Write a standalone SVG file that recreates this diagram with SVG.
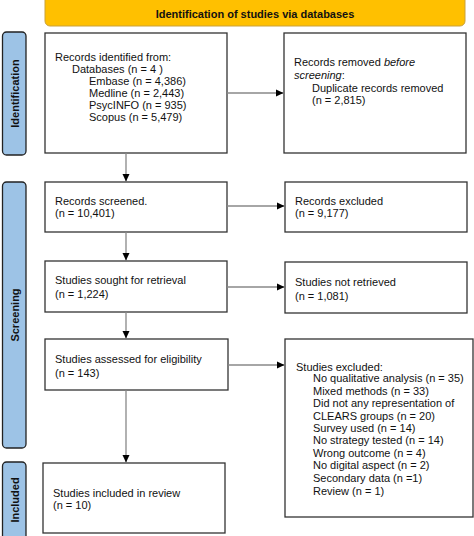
<svg xmlns="http://www.w3.org/2000/svg" width="474" height="536" viewBox="0 0 474 536">
<style>
text{font-family:"Liberation Sans",Arial,sans-serif;font-size:11px;fill:#111}
.box{fill:#fff;stroke:#333;stroke-width:1.3}
.side rect{fill:#9DC3E6;stroke:#222;stroke-width:1.3}
.side text{font-weight:bold;font-size:11px}
.hdr{fill:#FFC000;stroke:#C9A13A;stroke-width:1}
.c line{stroke:#888;stroke-width:1.3;marker-end:url(#ah)}
</style>
<defs>
<marker id="ah" markerWidth="8" markerHeight="8" refX="7" refY="4" orient="auto" markerUnits="userSpaceOnUse">
<path d="M0,0.5 L7.5,4 L0,7.5 Z" fill="#000"/>
</marker>
</defs>
<rect width="474" height="536" fill="#fff"/>
<g id="header">
<rect class="hdr" x="45" y="-6" width="420" height="32" rx="5"/>
<text x="255" y="18" text-anchor="middle" font-weight="bold" font-size="11.3">Identification of studies via databases</text>
</g>
<g id="side-identification" class="side">
<rect x="2.5" y="32" width="23.5" height="123" rx="4"/>
<text transform="translate(18.5,93.5) rotate(-90)" text-anchor="middle">Identification</text>
</g>
<g id="side-screening" class="side">
<rect x="2.5" y="182" width="23.5" height="266" rx="4"/>
<text transform="translate(18.5,315) rotate(-90)" text-anchor="middle">Screening</text>
</g>
<g id="side-included" class="side">
<rect x="2.5" y="462" width="23.5" height="80" rx="4"/>
<text transform="translate(18.5,500) rotate(-90)" text-anchor="middle">Included</text>
</g>
<g id="records-identified">
<rect class="box" x="45" y="33" width="182" height="120"/>
<text x="55" y="61">Records identified from:</text>
<text x="72" y="73">Databases (n = 4 )</text>
<text x="89" y="85">Embase (n = 4,386)</text>
<text x="89" y="97">Medline (n = 2,443)</text>
<text x="89" y="109">PsycINFO (n = 935)</text>
<text x="89" y="121">Scopus (n = 5,479)</text>
</g>
<g id="records-removed">
<rect class="box" x="284" y="33" width="182" height="120"/>
<text x="294" y="66">Records removed <tspan font-style="italic">before</tspan></text>
<text x="294" y="79"><tspan font-style="italic">screening</tspan>:</text>
<text x="312" y="92">Duplicate records removed</text>
<text x="312" y="104">(n = 2,815)</text>
</g>
<g id="records-screened">
<rect class="box" x="45" y="182" width="182" height="50"/>
<text x="55" y="205">Records screened.</text>
<text x="55" y="217">(n = 10,401)</text>
</g>
<g id="records-excluded">
<rect class="box" x="285" y="182" width="182" height="50"/>
<text x="295" y="205">Records excluded</text>
<text x="295" y="217">(n = 9,177)</text>
</g>
<g id="studies-sought">
<rect class="box" x="45" y="261" width="182" height="51"/>
<text x="55" y="284">Studies sought for retrieval</text>
<text x="55" y="298">(n = 1,224)</text>
</g>
<g id="studies-not-retrieved">
<rect class="box" x="285" y="262" width="182" height="51"/>
<text x="295" y="286">Studies not retrieved</text>
<text x="295" y="300">(n = 1,081)</text>
</g>
<g id="studies-assessed">
<rect class="box" x="45" y="339" width="183" height="51"/>
<text x="55" y="363">Studies assessed for eligibility</text>
<text x="55" y="377">(n = 143)</text>
</g>
<g id="studies-excluded">
<rect class="box" x="285" y="339" width="188" height="178"/>
<text x="296" y="371">Studies excluded:</text>
<text x="313" y="382">No qualitative analysis (n = 35)</text>
<text x="313" y="395">Mixed methods (n = 33)</text>
<text x="313" y="407">Did not any representation of</text>
<text x="313" y="420">CLEARS groups (n = 20)</text>
<text x="313" y="432">Survey used (n = 14)</text>
<text x="313" y="444">No strategy tested (n = 14)</text>
<text x="313" y="457">Wrong outcome (n = 4)</text>
<text x="313" y="469">No digital aspect (n = 2)</text>
<text x="313" y="482">Secondary data (n =1)</text>
<text x="313" y="495">Review (n = 1)</text>
</g>
<g id="studies-included">
<rect class="box" x="43" y="463" width="182" height="70"/>
<text x="53" y="497">Studies included in review</text>
<text x="53" y="509">(n = 10)</text>
</g>
<g id="connectors" class="c">
<line x1="227" y1="93" x2="283" y2="93"/>
<line x1="126" y1="153" x2="126" y2="181"/>
<line x1="227" y1="206" x2="284" y2="206"/>
<line x1="126" y1="232" x2="126" y2="260"/>
<line x1="227" y1="287" x2="284" y2="287"/>
<line x1="126" y1="312" x2="126" y2="338"/>
<line x1="228" y1="365" x2="284" y2="365"/>
<line x1="126" y1="390" x2="126" y2="462"/>
</g>
</svg>
